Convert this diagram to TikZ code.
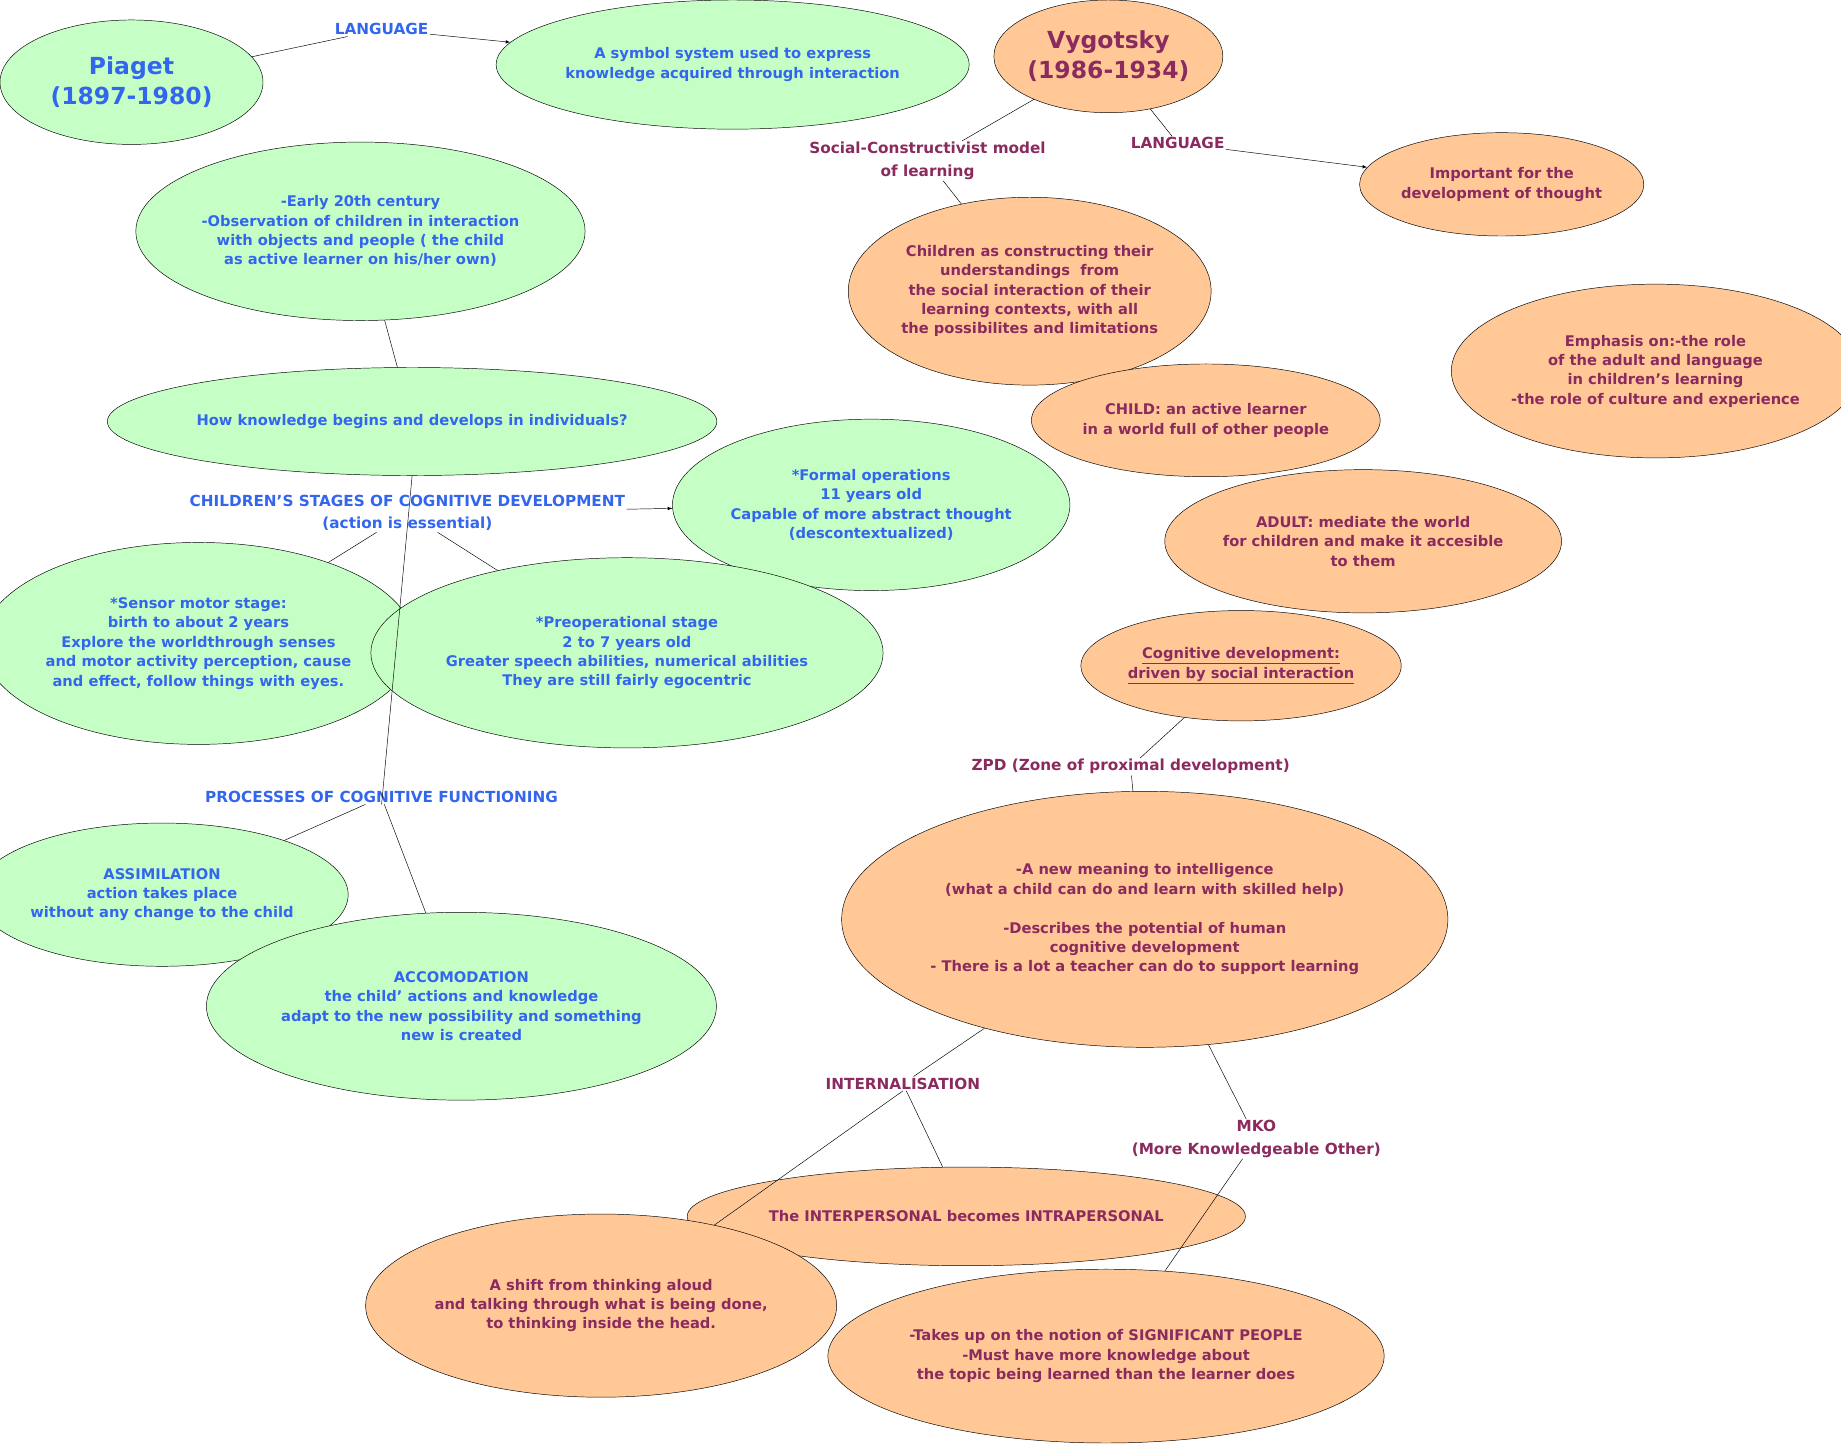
\documentclass[tikz,border=0pt]{standalone}
\usepackage{fontspec}
\setmainfont{DejaVu Sans}
\usetikzlibrary{shapes.geometric}
\definecolor{pgreen}{HTML}{C6FFC6}
\definecolor{vorange}{HTML}{FFC896}
\definecolor{pblue}{HTML}{3366EE}
\definecolor{vpurple}{HTML}{8B2A5E}
\tikzset{
  bubble/.style={ellipse,draw=black,inner sep=0pt,align=center,
    font=\fontsize{12.5}{16.5}\selectfont\bfseries},
  pbub/.style={bubble,fill=pgreen,text=pblue},
  vbub/.style={bubble,fill=vorange,text=vpurple},
  plab/.style={align=center,text=pblue,inner sep=1pt,font=\fontsize{13}{19}\selectfont\bfseries},
  vlab/.style={align=center,text=vpurple,inner sep=1pt,font=\fontsize{13}{19}\selectfont\bfseries},
  big/.style={font=\fontsize{20}{26}\selectfont\bfseries},
}
\begin{document}
\begin{tikzpicture}[x=1pt,y=-1pt,>=latex]
\useasboundingbox (0,0) rectangle (1568,1232);

% Piaget side
\node[pbub,big,minimum width=224,minimum height=106] (piaget) at (112,70) {Piaget\\(1897-1980)};
\node[pbub,minimum width=334,minimum height=110] (symb) at (624,55) {A symbol system used to express\\knowledge acquired through interaction};
\node[pbub,minimum width=337,minimum height=152] (early) at (307,197) {-Early 20th century\\-Observation of children in interaction\\with objects and people ( the child\\as active learner on his/her own)};
\node[pbub,minimum width=415,minimum height=92] (how) at (351,359) {How knowledge begins and develops in individuals?};
\node[pbub,minimum width=302,minimum height=146] (formal) at (742,430) {*Formal operations\\11 years old\\Capable of more abstract thought\\(descontextualized)};
\node[pbub,minimum width=339,minimum height=172] (sensor) at (169,548) {*Sensor motor stage:\\birth to about 2 years\\Explore the worldthrough senses\\and motor activity perception, cause\\and effect, follow things with eyes.};
\node[pbub,minimum width=376,minimum height=162] (preop) at (534,556) {*Preoperational stage\\2 to 7 years old\\Greater speech abilities, numerical abilities\\They are still fairly egocentric};
\node[pbub,minimum width=277,minimum height=122] (assim) at (138,762) {ASSIMILATION\\action takes place\\without any change to the child};
\node[pbub,minimum width=378,minimum height=160] (accom) at (393,857) {ACCOMODATION\\the child' actions and knowledge\\adapt to the new possibility and something\\new is created};

\node[plab] (lang1) at (325,25) {LANGUAGE};
\node[plab] (stages) at (347,437) {CHILDREN'S STAGES OF COGNITIVE DEVELOPMENT\\(action is essential)};
\node[plab] (procs) at (325,679) {PROCESSES OF COGNITIVE FUNCTIONING};

\draw (piaget) -- (lang1);
\draw[->] (lang1) -- (symb);
\draw (early) -- (how);
\draw (how.south) -- (procs.south);
\draw (stages) -- (sensor);
\draw (stages) -- (preop);
\draw[->] (stages) -- (formal);
\draw (procs) -- (assim);
\draw (procs) -- (accom);

% Vygotsky side
\node[vbub,big,minimum width=183,minimum height=96] (vyg) at (944,48) {Vygotsky\\(1986-1934)};
\node[vbub,minimum width=211,minimum height=88] (important) at (1279,157) {Important for the\\development of thought};
\node[vbub,minimum width=294,minimum height=160] (children) at (877,248) {Children as constructing their\\understandings\ \ from\\the social interaction of their\\learning contexts, with all\\the possibilites and limitations};
\node[vbub,minimum width=311,minimum height=148] (emph) at (1410,316) {Emphasis on:-the role\\of the adult and language\\in children's learning\\-the role of culture and experience};
\node[vbub,minimum width=254,minimum height=96] (child) at (1027,358) {CHILD: an active learner\\in a world full of other people};
\node[vbub,minimum width=292,minimum height=122] (adult) at (1161,461) {ADULT: mediate the world\\for children and make it accesible\\to them};
\node[vbub,minimum width=235,minimum height=94] (cogdev) at (1057,567) {\underline{Cognitive development:}\\\underline{driven by social interaction}};
\node[vbub,minimum width=456,minimum height=218] (zpdbox) at (975,783) {-A new meaning to intelligence\\(what a child can do and learn with skilled help)\\[16.5pt]-Describes the potential of human\\cognitive development\\- There is a lot a teacher can do to support learning};
\node[vbub,minimum width=389,minimum height=84] (interp) at (823,1036) {The INTERPERSONAL becomes INTRAPERSONAL};
\node[vbub,minimum width=350,minimum height=156] (shift) at (512,1112) {A shift from thinking aloud\\and talking through what is being done,\\to thinking inside the head.};
\node[vbub,minimum width=410,minimum height=148] (takes) at (942,1155) {-Takes up on the notion of SIGNIFICANT PEOPLE\\-Must have more knowledge about\\the topic being learned than the learner does};

\node[vlab] (socmod) at (790,137) {Social-Constructivist model\\of learning};
\node[vlab] (lang2) at (1003,122) {LANGUAGE};
\node[vlab] (zpd) at (963,653) {ZPD (Zone of proximal development)};
\node[vlab] (intern) at (769,923) {INTERNALISATION};
\node[vlab] (mko) at (1070,970) {MKO\\(More Knowledgeable Other)};

\draw (vyg) -- (socmod);
\draw (socmod) -- (children);
\draw (vyg) -- (lang2);
\draw[->] (lang2) -- (important);
\draw (cogdev) -- (zpd);
\draw (zpd) -- (zpdbox);
\draw (zpdbox) -- (intern);
\draw (intern) -- (interp);
\draw (intern.south) -- (shift);
\draw (zpdbox) -- (mko);
\draw (mko) -- (takes);
\end{tikzpicture}
\end{document}
